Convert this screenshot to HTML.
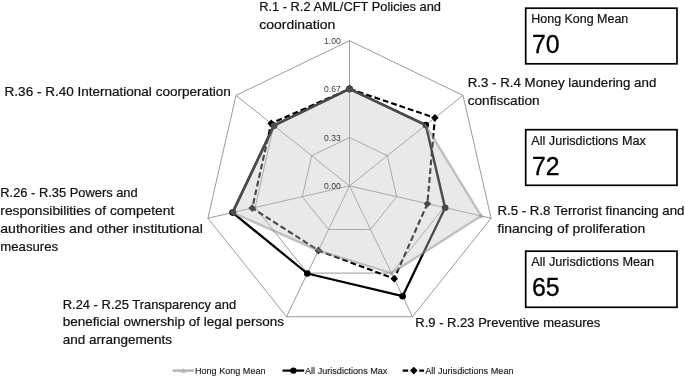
<!DOCTYPE html>
<html><head><meta charset="utf-8"><title>Radar chart</title>
<style>
html,body{margin:0;padding:0;background:#fff;}
body{width:685px;height:376px;overflow:hidden;position:relative;font-family:"Liberation Sans",sans-serif;}
</style></head><body>
<svg width="685" height="376" viewBox="0 0 685 376" style="display:block;position:absolute;left:0;top:0" font-family="'Liberation Sans', sans-serif">
<rect width="685" height="376" fill="#fff"/>
<g fill="none" stroke="#707070" stroke-width="0.7">
<polygon points="349.5,137.5 387.3,155.7 396.7,196.7 370.5,229.5 328.5,229.5 302.3,196.7 311.7,155.7"/>
<polygon points="349.5,89.1 425.2,125.5 443.9,207.4 391.5,273.1 307.5,273.1 255.1,207.4 273.8,125.5"/>
<polygon points="349.5,40.7 463.0,95.4 491.1,218.2 412.5,316.7 286.5,316.7 207.9,218.2 236.0,95.4"/>
<line x1="349.5" y1="185.9" x2="349.5" y2="40.7"/>
<line x1="349.5" y1="185.9" x2="463.0" y2="95.4"/>
<line x1="349.5" y1="185.9" x2="491.1" y2="218.2"/>
<line x1="349.5" y1="185.9" x2="412.5" y2="316.7"/>
<line x1="349.5" y1="185.9" x2="286.5" y2="316.7"/>
<line x1="349.5" y1="185.9" x2="207.9" y2="218.2"/>
<line x1="349.5" y1="185.9" x2="236.0" y2="95.4"/>
</g>
<polygon points="349.5,88.9 434.9,117.8 427.4,203.7 394.2,278.7 318.4,250.4 252.2,208.1 271.2,123.4" fill="none" stroke="#000" stroke-width="2.15" stroke-dasharray="5.8 3" stroke-linejoin="round"/>
<polygon points="349.5,85.1 353.3,88.9 349.5,92.7 345.7,88.9" fill="#000"/>
<polygon points="434.9,114.0 438.7,117.8 434.9,121.6 431.1,117.8" fill="#000"/>
<polygon points="427.4,199.9 431.2,203.7 427.4,207.5 423.6,203.7" fill="#000"/>
<polygon points="394.2,274.9 398.0,278.7 394.2,282.5 390.4,278.7" fill="#000"/>
<polygon points="318.4,246.6 322.2,250.4 318.4,254.2 314.6,250.4" fill="#000"/>
<polygon points="252.2,204.3 256.0,208.1 252.2,211.9 248.4,208.1" fill="#000"/>
<polygon points="271.2,119.6 275.0,123.4 271.2,127.2 267.4,123.4" fill="#000"/>
<polygon points="349.5,88.9 425.8,125.1 445.2,207.7 402.6,296.2 307.3,273.5 232.6,212.6 273.9,125.6" fill="none" stroke="#000" stroke-width="2.25" stroke-linejoin="round"/>
<circle cx="349.5" cy="88.9" r="3.3" fill="#000"/>
<circle cx="425.8" cy="125.1" r="3.3" fill="#000"/>
<circle cx="445.2" cy="207.7" r="3.3" fill="#000"/>
<circle cx="402.6" cy="296.2" r="3.3" fill="#000"/>
<circle cx="307.3" cy="273.5" r="3.3" fill="#000"/>
<circle cx="232.6" cy="212.6" r="3.3" fill="#000"/>
<circle cx="273.9" cy="125.6" r="3.3" fill="#000"/>
<polygon points="349.5,88.9 425.6,125.2 481.2,215.9 391.6,273.3 318.3,250.7 232.6,212.6 273.9,125.6" fill="#c5c5c5" fill-opacity="0.376" stroke="none"/>
<polyline points="425.6,125.2 481.2,215.9 391.6,273.3 318.3,250.7 232.6,212.6" fill="none" stroke="#909090" stroke-opacity="0.52" stroke-width="2.4" stroke-linejoin="miter"/>
<polygon points="481.2,213.5 483.7,218.2 478.7,218.2" fill="#8a8a8a" fill-opacity="0.4"/>
<polygon points="391.6,270.9 394.1,275.6 389.1,275.6" fill="#8a8a8a" fill-opacity="0.4"/>
<polygon points="318.3,248.3 320.8,253.0 315.8,253.0" fill="#8a8a8a" fill-opacity="0.4"/>
<polyline points="232.6,212.6 273.9,125.6 349.5,88.9 425.8,125.1" fill="none" stroke="#4a4a4a" stroke-width="2.6" stroke-linejoin="round"/>
<circle cx="233.3" cy="212.3" r="3.0" fill="#4c4c4c"/>
<circle cx="274.1" cy="125.8" r="3.3" fill="#4c4c4c"/>
<circle cx="349.5" cy="89.2" r="3.3" fill="#4c4c4c"/>
<text x="324.1" y="43.8" font-size="8.8" fill="#404040" textLength="16.7" lengthAdjust="spacingAndGlyphs">1.00</text>
<text x="324.1" y="92.2" font-size="8.8" fill="#404040" textLength="16.7" lengthAdjust="spacingAndGlyphs">0.67</text>
<text x="324.1" y="140.6" font-size="8.8" fill="#404040" textLength="16.7" lengthAdjust="spacingAndGlyphs">0.33</text>
<text x="324.1" y="189.0" font-size="8.8" fill="#404040" textLength="16.7" lengthAdjust="spacingAndGlyphs">0.00</text>
<text x="259.2" y="11.4" font-size="13.4" fill="#111" stroke="#111" stroke-width="0.22" textLength="181.8" lengthAdjust="spacingAndGlyphs">R.1 - R.2 AML/CFT Policies and</text>
<text x="259.2" y="29.4" font-size="13.4" fill="#111" stroke="#111" stroke-width="0.22" textLength="76.2" lengthAdjust="spacingAndGlyphs">coordination</text>
<text x="467.7" y="87.3" font-size="13.4" fill="#111" stroke="#111" stroke-width="0.22" textLength="188.6" lengthAdjust="spacingAndGlyphs">R.3 - R.4 Money laundering and</text>
<text x="467.7" y="105.2" font-size="13.4" fill="#111" stroke="#111" stroke-width="0.22" textLength="71.9" lengthAdjust="spacingAndGlyphs">confiscation</text>
<text x="497.4" y="215.0" font-size="13.4" fill="#111" stroke="#111" stroke-width="0.22" textLength="187.1" lengthAdjust="spacingAndGlyphs">R.5 - R.8 Terrorist financing and</text>
<text x="497.4" y="232.9" font-size="13.4" fill="#111" stroke="#111" stroke-width="0.22" textLength="147.8" lengthAdjust="spacingAndGlyphs">financing of proliferation</text>
<text x="415.3" y="326.9" font-size="13.4" fill="#111" stroke="#111" stroke-width="0.22" textLength="185.0" lengthAdjust="spacingAndGlyphs">R.9 - R.23 Preventive measures</text>
<text x="62.7" y="308.5" font-size="13.4" fill="#111" stroke="#111" stroke-width="0.22" textLength="173.4" lengthAdjust="spacingAndGlyphs">R.24 - R.25 Transparency and</text>
<text x="62.7" y="326.4" font-size="13.4" fill="#111" stroke="#111" stroke-width="0.22" textLength="221.3" lengthAdjust="spacingAndGlyphs">beneficial ownership of legal persons</text>
<text x="62.7" y="344.4" font-size="13.4" fill="#111" stroke="#111" stroke-width="0.22" textLength="109.4" lengthAdjust="spacingAndGlyphs">and arrangements</text>
<text x="0.3" y="197.1" font-size="13.4" fill="#111" stroke="#111" stroke-width="0.22" textLength="137.4" lengthAdjust="spacingAndGlyphs">R.26 - R.35 Powers and</text>
<text x="0.3" y="215.0" font-size="13.4" fill="#111" stroke="#111" stroke-width="0.22" textLength="174.0" lengthAdjust="spacingAndGlyphs">responsibilities of competent</text>
<text x="0.3" y="232.8" font-size="13.4" fill="#111" stroke="#111" stroke-width="0.22" textLength="202.5" lengthAdjust="spacingAndGlyphs">authorities and other institutional</text>
<text x="0.3" y="250.6" font-size="13.4" fill="#111" stroke="#111" stroke-width="0.22" textLength="57.8" lengthAdjust="spacingAndGlyphs">measures</text>
<text x="4.6" y="95.9" font-size="13.4" fill="#111" stroke="#111" stroke-width="0.22" textLength="226.2" lengthAdjust="spacingAndGlyphs">R.36 - R.40 International coorperation</text>
<rect x="525.7" y="8.2" width="151.3" height="55.6" fill="#fff" stroke="#000" stroke-width="1.7"/>
<text x="531.3" y="23.1" font-size="12.5" fill="#111" stroke="#111" stroke-width="0.2" textLength="97.0" lengthAdjust="spacingAndGlyphs">Hong Kong Mean</text>
<text x="532.0" y="53.1" font-size="26.3" fill="#000" stroke="#000" stroke-width="0.35" textLength="27.6" lengthAdjust="spacingAndGlyphs">70</text>
<rect x="525.7" y="129.7" width="151.3" height="55.6" fill="#fff" stroke="#000" stroke-width="1.7"/>
<text x="531.3" y="144.6" font-size="12.5" fill="#111" stroke="#111" stroke-width="0.2" textLength="114.5" lengthAdjust="spacingAndGlyphs">All Jurisdictions Max</text>
<text x="532.0" y="174.6" font-size="26.3" fill="#000" stroke="#000" stroke-width="0.35" textLength="27.6" lengthAdjust="spacingAndGlyphs">72</text>
<rect x="525.7" y="251.2" width="151.3" height="56.1" fill="#fff" stroke="#000" stroke-width="1.7"/>
<text x="531.3" y="266.1" font-size="12.5" fill="#111" stroke="#111" stroke-width="0.2" textLength="122.9" lengthAdjust="spacingAndGlyphs">All Jurisdictions Mean</text>
<text x="532.0" y="296.1" font-size="26.3" fill="#000" stroke="#000" stroke-width="0.35" textLength="27.6" lengthAdjust="spacingAndGlyphs">65</text>
<line x1="172.5" y1="370.6" x2="193.8" y2="370.6" stroke="#b6b6b6" stroke-width="2.6"/>
<polygon points="183.5,368.1 186,372.7 181,372.7" fill="#b6b6b6"/>
<text x="195" y="373.5" font-size="9.3" fill="#222" stroke="#222" stroke-width="0.15" textLength="70.5" lengthAdjust="spacingAndGlyphs">Hong Kong Mean</text>
<line x1="282.5" y1="370.6" x2="304.2" y2="370.6" stroke="#000" stroke-width="2.2"/>
<circle cx="293.4" cy="370.6" r="3.2" fill="#000"/>
<text x="305" y="373.5" font-size="9.3" fill="#222" stroke="#222" stroke-width="0.15" textLength="82.4" lengthAdjust="spacingAndGlyphs">All Jurisdictions Max</text>
<path d="M402.6 370.6H408.2M419.2 370.6H424" stroke="#000" stroke-width="2.3" fill="none"/>
<polygon points="413.8,366.8 417.6,370.6 413.8,374.4 410.0,370.6" fill="#000"/>
<text x="425.2" y="373.5" font-size="9.3" fill="#222" stroke="#222" stroke-width="0.15" textLength="88.4" lengthAdjust="spacingAndGlyphs">All Jurisdictions Mean</text>
</svg>
</body></html>
